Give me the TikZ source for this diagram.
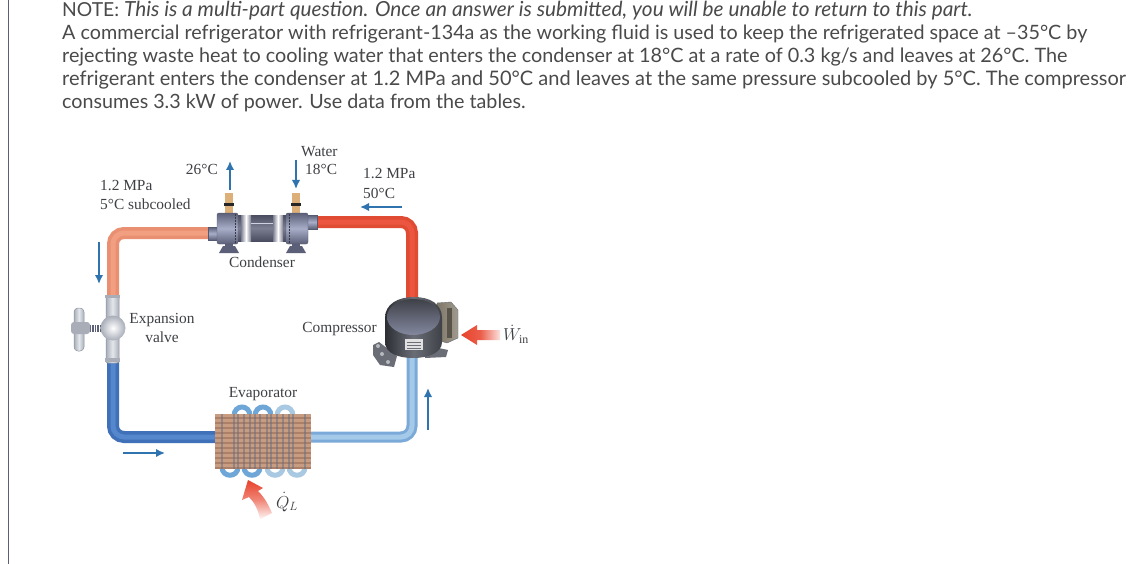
\documentclass[tikz,border=0pt]{standalone}
\usepackage{fontspec}
\usetikzlibrary{arrows.meta}
\setmainfont{Liberation Serif}
\newfontfamily\notefont{Lato}
\definecolor{notetext}{HTML}{4A4A4A}
\definecolor{labeltext}{HTML}{3E4044}
\definecolor{flowblue}{HTML}{2F74AE}
\definecolor{EEcolor}{HTML}{EA9072}\definecolor{EElight}{HTML}{F29E80}
\definecolor{REDcolor}{HTML}{E04C33}\definecolor{REDlight}{HTML}{EC5640}
\definecolor{BLUEcolor}{HTML}{3F70B8}\definecolor{BLUElight}{HTML}{5587CC}
\definecolor{PALEcolor}{HTML}{7BAAD8}\definecolor{PALElight}{HTML}{A5C9E8}
\definecolor{HEADa}{HTML}{8E93B0}\definecolor{HEADb}{HTML}{5B5F78}\definecolor{HEADc}{HTML}{A9AEC8}\definecolor{HEADd}{HTML}{555A72}
\definecolor{VALa}{HTML}{A8ADB8}\definecolor{VALb}{HTML}{E4E7EC}\definecolor{VALc}{HTML}{8E93A0}
\definecolor{TUBE}{HTML}{5F6F88}
\definecolor{BRASS}{HTML}{DDB07A}
\definecolor{FINa}{HTML}{C79C80}\definecolor{FINb}{HTML}{AC8068}
\definecolor{BENDa}{HTML}{6FA6D8}\definecolor{BENDb}{HTML}{A9C8E2}
\definecolor{SHELLa}{HTML}{3F4148}\definecolor{SHELLb}{HTML}{6A6D76}\definecolor{SHELLc}{HTML}{2C2E34}
\definecolor{COREa}{HTML}{4A4D60}\definecolor{COREb}{HTML}{7C7F92}
\definecolor{BOXa}{HTML}{A09A90}\definecolor{BOXb}{HTML}{7F7868}
\definecolor{HOT}{HTML}{E8422B}
\begin{document}
\begin{tikzpicture}[x=1pt,y=-1pt,
  noteline/.style={anchor=base west,inner sep=0pt,text=notetext,font=\notefont\fontsize{#1}{23}\selectfont},
  lab/.style={inner sep=0pt,text=labeltext,font=\fontsize{15.4}{18}\selectfont},
  sym/.style={inner sep=0pt,text=labeltext,font=\fontsize{17}{20}\selectfont},
  flow/.style={draw=flowblue,line width=1.8pt,-{Latex[length=9pt,width=8.5pt]}},
  pipesalmon/.style={line width=12pt,draw=EEcolor,rounded corners=11pt,postaction={draw=EElight,line width=5pt}},
  pipered/.style={line width=12pt,draw=REDcolor,rounded corners=11pt,postaction={draw=REDlight,line width=5pt}},
  pipeblue/.style={line width=12pt,draw=BLUEcolor,rounded corners=11pt,postaction={draw=BLUElight,line width=5pt}},
  pipepale/.style={line width=11pt,draw=PALEcolor,rounded corners=11pt,postaction={draw=PALElight,line width=5pt}},
  steel/.style={top color=HEADb,bottom color=HEADb,middle color=HEADc,draw=HEADd,line width=.4pt},
  valvemetal/.style={left color=VALa,right color=VALa,middle color=VALb,draw=VALc,line width=.5pt},
  tube/.style={line width=2.2pt,draw=TUBE,opacity=.5},
  bend/.style={line width=5pt,draw=#1},
  hidden/.style={inner sep=0pt,draw=none,fill=none},
]
\useasboundingbox (0,0) rectangle (1137,564);
\fill[white] (0,0) rectangle (1137,564);
\draw[draw=HEADb,line width=1pt] (8,0) -- (8,564);

% question text
\node[noteline=19.3] (n1) at (62,17) {NOTE: {\fontsize{20.8}{23}\selectfont\textit{This is a multi-part question. Once an answer is submitted, you will be unable to return to this part.}}};
\node[noteline=19.75] (n2) at (62,40) {A commercial refrigerator with refrigerant-134a as the working fluid is used to keep the refrigerated space at –35°C by};
\node[noteline=19.8] (n3) at (62,63) {rejecting waste heat to cooling water that enters the condenser at 18°C at a rate of 0.3 kg/s and leaves at 26°C. The};
\node[noteline=20] (n4) at (62,86) {refrigerant enters the condenser at 1.2 MPa and 50°C and leaves at the same pressure subcooled by 5°C. The compressor};
\node[noteline=19.7] (n5) at (62,109) {consumes 3.3 kW of power. Use data from the tables.};

% connection points of the pipes
\coordinate (condOut) at (212,233);
\coordinate (condIn) at (312,222);
\coordinate (valveTop) at (113,300);
\coordinate (valveBot) at (113,362);
\coordinate (evapIn) at (218,437);
\coordinate (evapOut) at (308,437);
\coordinate (compTop) at (412,302);
\coordinate (compBot) at (412,352);

% pipes
\draw[pipesalmon] (condOut) -| (valveTop);
\draw[pipered] (condIn) -| (compTop);
\draw[pipeblue] (valveBot) |- (evapIn);
\draw[pipepale] (evapOut) -| (compBot);

% condenser
\foreach \x in {229,296}{
  \fill[HEADb] (\x-6,246) -- (\x+6,246) -- (\x+10,253) -- (\x-10,253) -- cycle;
  \fill[HEADb] (\x-4,240) rectangle (\x+4,248);
  \fill[BRASS] (\x-4,193) rectangle (\x+4,213);
  \fill[black!85] (\x-5,203) rectangle (\x+5,205.5);
}
\shade[steel] (208,227) rectangle (218,240);
\shade[steel] (306,215) rectangle (317,229);
\shade[top color=COREa,bottom color=COREa,middle color=COREb] (236,215) rectangle (288,241);
\shade[left color=COREb,right color=white] (241,215) rectangle (246,241);
\shade[left color=white,right color=COREb] (246,215) rectangle (251,241);
\shade[left color=COREb,right color=white] (273,215) rectangle (278,241);
\shade[left color=white,right color=COREb] (278,215) rectangle (283,241);
\fill[HEADc!55!white] (251,222.5) rectangle (273,224);
\shade[steel,rounded corners=2pt] (217,213) rectangle (238,244);
\shade[steel,rounded corners=2pt] (286,213) rectangle (308,244);
\foreach \x in {235,289}{\draw[HEADb!60!black,line width=1pt,dash pattern=on 1.5pt off 1.5pt] (\x,214) -- (\x,243);}
\node[lab] (condLabel) at (262,262) {Condenser};

% valve
\shade[valvemetal,rounded corners=2pt] (106,296) rectangle (119,363);
\fill[VALa] (105,295) rectangle (120,298);
\fill[VALa] (105,358) rectangle (120,362);
\draw[draw=HEADb,line width=7pt,dash pattern=on 1.5pt off 1pt] (87,328) -- (100,328);
\shade[valvemetal,rounded corners=4pt] (74,308) rectangle (84,351);
\fill[VALa,rounded corners=3pt] (71,322) rectangle (90,334);
\node[circle,minimum size=25pt,hidden,shading=radial,inner color=white,outer color=VALa] (valve) at (113,328) {};
\node[lab,align=center] (valveLabel) at (162,328) {Expansion\\[1.5pt]valve};

% evaporator
\foreach \x/\c in {242/BENDa,263/BENDa,285/BENDb}{
  \draw[bend=\c] (\x-8,416) .. controls (\x-8,404) and (\x+8,404) .. (\x+8,416);
}
\foreach \x/\c in {230/BENDa,252/BENDa,275/BENDb,297/BENDb}{
  \draw[bend=\c] (\x-8,467) .. controls (\x-8,478) and (\x+8,478) .. (\x+8,467);
}
\fill[FINa] (215,414) rectangle (311,469);
\foreach \y in {418,423,...,468}{\draw[FINb,line width=1.2pt] (215,\y) -- (311,\y);}
\foreach \x in {222,234,238,244,250,255,260,267,271,277,283,289,293,305}{\draw[tube] (\x,414) -- (\x,469);}
\node[lab] (evapLabel) at (263,394.5) {Evaporator};

% compressor
\shade[left color=BOXb,right color=BOXa,draw=SHELLb,line width=.4pt] (437,303) -- (451,302) -- (458,310) -- (458,338) -- (447,343) -- (437,340) -- cycle;
\fill[BOXb!70!black] (447,308) rectangle (452,338);
\fill[SHELLb] (373,345) -- (379,342) -- (397,356) -- (394,367) -- (380,365) -- (373,355) -- cycle;
\foreach \px/\py in {378/346,382/354,388/362}{\fill[VALb!80!black] (\px,\py) circle[radius=2];}
\fill[SHELLb] (425,345) -- (448,350) -- (446,357) -- (425,358) -- cycle;
\shade[left color=SHELLc,right color=SHELLa,middle color=SHELLb]
  (385,318) .. controls (385,304) and (398,297) .. (414,297)
  .. controls (430,297) and (442,304) .. (442,318)
  -- (442,342) .. controls (442,353) and (428,358) .. (413,358)
  .. controls (398,358) and (385,353) .. (385,342) -- cycle;
\shade[top color=SHELLa,bottom color=HEADa!70!SHELLb]
  (387,317) .. controls (387,306) and (400,299) .. (413,299)
  .. controls (428,299) and (440,306) .. (440,317)
  .. controls (440,328) and (426,335) .. (413,335)
  .. controls (400,335) and (387,328) .. (387,317) -- cycle;
\fill[white!88!black] (405,339) rectangle (423,350);
\foreach \y in {342,345,348}{\draw[SHELLb,line width=.6pt] (407,\y) -- (421,\y);}
\node[lab,anchor=east] (compLabel) at (377,329.5) {Compressor};

% water and refrigerant flow arrows
\coordinate (a1s) at (230,190); \coordinate (a1e) at (230,161);
\coordinate (a2s) at (296,160); \coordinate (a2e) at (296,189);
\coordinate (a3s) at (402,207); \coordinate (a3e) at (360,207);
\coordinate (a4s) at (99,242);  \coordinate (a4e) at (99,284);
\coordinate (a5s) at (123,453); \coordinate (a5e) at (165,453);
\coordinate (a6s) at (428,430); \coordinate (a6e) at (428,388);
\draw[flow] (a1s) -- (a1e);
\draw[flow] (a2s) -- (a2e);
\draw[flow] (a3s) -- (a3e);
\draw[flow] (a4s) -- (a4e);
\draw[flow] (a5s) -- (a5e);
\draw[flow] (a6s) -- (a6e);

% heat and work arrows
\shade[left color=HOT,right color=HOT!15!white,middle color=HOT!85!white]
  (461,335) -- (477,325) -- (477,330) -- (500,330) -- (500,340) -- (477,340) -- (477,345) -- cycle;
\shade[top color=HOT,bottom color=HOT!5!white,middle color=HOT!65!white]
  (248,480) -- (263,488) -- (258,491) .. controls (265,498) and (269,506) .. (272,513)
  -- (260,519) .. controls (258,509) and (254,502) .. (249,497) -- (242,500) -- cycle;

% labels
\node[lab,anchor=east] (t26) at (218,169) {26°C};
\node[lab,anchor=west] (p1) at (100,186) {1.2 MPa};
\node[lab,anchor=west] (sub) at (100,204) {5°C subcooled};
\node[lab,anchor=west] (water) at (301,152) {Water};
\node[lab,anchor=west] (t18) at (305,169) {18°C};
\node[lab,anchor=west] (p2) at (363,174) {1.2 MPa};
\node[lab,anchor=west] (t50) at (363,193) {50°C};
\node[sym] (qlabel) at (287,502) {$\dot{Q}_{L}$};
\node[sym] (wlabel) at (516,334) {$\dot{W}_{\mathrm{in}}$};
\end{tikzpicture}
\end{document}
